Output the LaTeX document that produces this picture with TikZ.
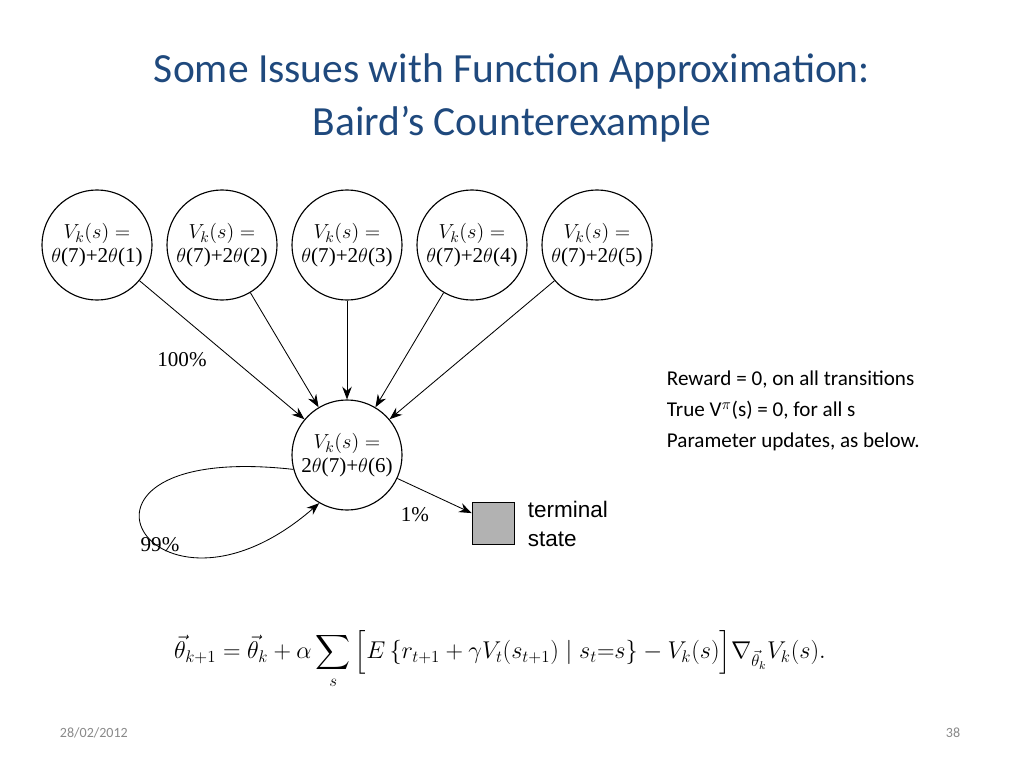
\documentclass[tikz,border=0pt]{standalone}
\usepackage{amsmath}
\usepackage{fontspec}
\setmainfont{Liberation Serif}
\newfontfamily\calibri{Carlito}
\newfontfamily\arialf{Liberation Sans}
\usetikzlibrary{arrows.meta}
\definecolor{titleBlue}{RGB}{31,73,125}
\definecolor{footGrey}{RGB}{137,137,137}

\begin{document}
\begin{tikzpicture}[x=0.025cm, y=-0.025cm]
  \tikzset{state/.style={draw, circle, minimum size=2.75cm, inner sep=0pt, align=center, font=\fontsize{15}{17}\selectfont, thick},
    flow/.style={draw, -{Stealth[length=9pt]}, semithick}}
  \useasboundingbox (0,0) rectangle (1024,768);

  % title
  \node[font=\calibri\fontsize{29.5}{38}\selectfont, text=titleBlue, align=center] (title) at (512,98)
    {Some Issues with Function Approximation:\\Baird’s Counterexample};

  % states
  \foreach \i/\x in {1/97,2/222,3/347,4/472,5/597}
    \node[state] (S\i) at (\x,245) {$V_k(s) =$\\$\theta$(7)+2$\theta$(\i)};
  \node[state] (S6) at (347,455) {$V_k(s) =$\\2$\theta$(7)+$\theta$(6)};
  \node[draw, fill=gray!60, minimum size=1.05cm, inner sep=0pt] (T) at (493,523) {};
  \node[font=\arialf\fontsize{16}{20}\selectfont, align=left, anchor=west] (Tlab) at (523,524) {terminal\\state};

  \foreach \i in {1,...,5}
    \path[flow] (S\i) -- (S6);
  \path[flow] (S6) -- (T);
  \path[flow] (S6.195) .. controls (30,440) and (150,650) .. (S6.240);

  \node[font=\fontsize{15}{17}\selectfont] (p100) at (182,360) {100\%};
  \node[font=\fontsize{15}{17}\selectfont] (p99) at (160,545) {99\%};
  \node[font=\fontsize{15}{17}\selectfont] (p1) at (415,515) {1\%};

  % notes
  \node[font=\calibri\fontsize{15}{22}\selectfont, align=left, anchor=north west] (notes) at (662,366)
    {Reward = 0, on all transitions\\True V\textsuperscript{$\pi$}(s) = 0, for all s\\Parameter updates, as below.};

  % update rule
  \node[font=\fontsize{17}{20}\selectfont] (rule) at (500,660)
    {$\vec\theta_{k+1} = \vec\theta_k + \alpha \displaystyle\sum_s \Big[ E\left\{ r_{t+1} + \gamma V_t(s_{t+1}) \mid s_t{=}s \right\} - V_k(s) \Big] \nabla_{\vec\theta_k} V_k(s).$};

  % footer
  \node[font=\calibri\fontsize{10}{12}\selectfont, text=footGrey, anchor=west] (date) at (55,733) {28/02/2012};
  \node[font=\calibri\fontsize{10}{12}\selectfont, text=footGrey] (page) at (953,733) {38};
\end{tikzpicture}
\end{document}
